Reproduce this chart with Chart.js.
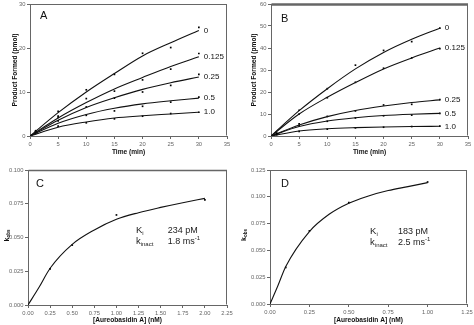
<!DOCTYPE html>
<html>
<head>
<meta charset="utf-8">
<script src="https://cdn.jsdelivr.net/npm/chart.js@4/dist/chart.umd.min.js"></script>
<style>
  body { margin: 0; background: #fff; width: 474px; height: 325px; position: relative; overflow: hidden; }
  canvas { position: absolute; }
</style>
</head>
<body>
<canvas id="chartA" width="237" height="160" style="left:0;top:0"></canvas>
<canvas id="chartB" width="237" height="160" style="left:237px;top:0"></canvas>
<canvas id="chartC" width="237" height="165" style="left:0;top:160px"></canvas>
<canvas id="chartD" width="237" height="165" style="left:237px;top:160px"></canvas>
<script>
const FONT = '"Liberation Sans", Arial, sans-serif'

// inhibitor doses (nM) labelling each time course
const doseLabels = ['0', '0.125', '0.25', '0.5', '1.0']

// time courses, product formed (pmol)
const pointTime = [1, 5, 10, 15, 20, 25, 30]
const fitTime = [0, 5, 10, 15, 20, 25, 30]

const pointsA = [
    [1.2, 5.6, 10.5, 14.0, 18.8, 20.1, 24.7],
    [1.0, 4.5, 8.5, 10.2, 12.75, 15.2, 18.75],
    [0.9, 4.2, 6.6, 8.6, 10.0, 11.5, 14.0],
    [0.8, 3.45, 4.7, 5.7, 6.75, 7.7, 8.85],
    [0.6, 2.25, 3.0, 3.9, 4.5, 5.1, 5.4]
]
const fitsA = [
    [0, 5.3, 10.0, 14.2, 18.2, 21.2, 24.0],
    [0, 4.1, 7.6, 10.7, 13.3, 15.8, 18.0],
    [0, 3.6, 6.5, 8.7, 10.6, 12.1, 13.4],
    [0, 2.9, 4.9, 6.3, 7.3, 8.0, 8.6],
    [0, 2.0, 3.2, 4.1, 4.6, 5.0, 5.4]
]

const pointsB = [
    [1.3, 11.7, 21.5, 32.2, 38.9, 42.9, 49.0],
    [1.2, 10.0, 17.4, 24.4, 30.8, 35.5, 39.7],
    [1.0, 5.5, 8.9, 11.4, 14.1, 14.4, 16.5],
    [0.9, 4.75, 6.7, 8.2, 9.2, 9.5, 10.25],
    [0.6, 2.1, 3.1, 3.7, 4.0, 4.3, 4.45]
]
const fitsB = [
    [0, 11.5, 21.5, 30.5, 38.0, 44.0, 49.0],
    [0, 10.0, 17.6, 24.3, 30.5, 35.5, 40.0],
    [0, 5.0, 8.8, 11.6, 13.6, 15.2, 16.4],
    [0, 4.3, 6.8, 8.3, 9.3, 9.9, 10.3],
    [0, 2.3, 3.3, 3.8, 4.1, 4.3, 4.4]
]

// kobs vs [Aureobasidin A] (nM)
const concC = [0.25, 0.5, 1.0, 2.0]
const kobsC = [0.0267, 0.0444, 0.0667, 0.0778]
const fitConcC = [0, 0.125, 0.25, 0.5, 0.75, 1.0, 1.25, 1.5, 1.75, 2.0]
const fitKobsC = [0, 0.0131, 0.0272, 0.0449, 0.0556, 0.0635, 0.0684, 0.0723, 0.0758, 0.079]

const concD = [0.1, 0.25, 0.5, 1.0]
const kobsD = [0.0341, 0.0682, 0.0946, 0.1138]
const fitConcD = [0, 0.05, 0.1, 0.25, 0.375, 0.5, 0.625, 0.75, 0.875, 1.0]
const fitKobsD = [0, 0.017, 0.035, 0.0676, 0.0837, 0.094, 0.1008, 0.1058, 0.1095, 0.1132]

const constantsC = ['234 pM', '1.8 ms']
const constantsD = ['183 pM', '2.5 ms']

const xy = (xs, ys) => xs.map((x, i) => ({x: x, y: ys[i]}))

const axis = o => ({
    type: 'linear', min: o.min, max: o.max,
    ticks: {
        stepSize: o.step, autoSkip: false, maxRotation: 0,
        font: {family: FONT, size: 5.8}, color: '#666', padding: 1.5,
        callback: v => v.toFixed(o.digits)
    },
    grid: {drawOnChartArea: false, drawTicks: true, tickLength: 3, color: '#666', lineWidth: 1},
    border: {display: true, color: '#666', width: 1},
    title: o.title
        ? {display: true, text: o.title, color: '#111', padding: o.titlePad,
           font: {family: FONT, size: 6.6, weight: 'bold'}}
        : {display: false},
    afterFit: s => {
        if (s.isHorizontal()) s.height = o.size
        else s.width = o.size
        s.paddingLeft = s.paddingRight = s.paddingTop = s.paddingBottom = 0
    }
})

function subText(ctx, parts, x, y) {
    // parts: [text, size, dy]
    parts.forEach(p => {
        ctx.font = p[1] + 'px ' + FONT
        ctx.fillText(p[0], x, y + p[2])
        x += ctx.measureText(p[0]).width
    })
}

const decor = {
    id: 'decor',
    afterDraw(chart, args, o) {
        const {ctx, chartArea: a, scales: {x, y}} = chart
        ctx.save()
        ctx.strokeStyle = '#666'
        ctx.lineWidth = 1
        const l = Math.round(a.left) + 0.5, t = Math.round(a.top) + 0.5
        const r = Math.round(a.right) - 0.5, b = Math.round(a.bottom) - 0.5
        ctx.beginPath()
        ctx.moveTo(r, t); ctx.lineTo(r, b)
        ctx.stroke()
        ctx.lineWidth = o.topWidth || 1
        ctx.beginPath()
        ctx.moveTo(l, t); ctx.lineTo(r + 0.5, t)
        ctx.stroke()

        ctx.fillStyle = '#111'
        ctx.textBaseline = 'middle'
        ctx.textAlign = 'left'
        ctx.font = '11px ' + FONT
        ctx.fillText(o.letter, a.left + o.letterPos[0], a.top + o.letterPos[1])

        // dose labels at the end of each fitted curve
        ctx.font = '8px ' + FONT
        chart.data.datasets.forEach(ds => {
            if (!ds.endLabel) return
            const last = ds.data[ds.data.length - 1]
            ctx.fillText(ds.endLabel, x.getPixelForValue(last.x) + 5, y.getPixelForValue(last.y))
        })

        if (o.constants) {
            const cx = x.getPixelForValue(o.constAt[0]), cy = y.getPixelForValue(o.constAt[1])
            const vx = x.getPixelForValue(o.constAt[2])
            ctx.fillStyle = '#222'
            subText(ctx, [['K', 9.5, 0], ['i', 6, 3]], cx, cy)
            subText(ctx, [[o.constants[0], 9, 0]], vx, cy)
            subText(ctx, [['k', 9.5, 0], ['inact', 6, 3]], cx, cy + 11)
            subText(ctx, [[o.constants[1], 9, 0], ['-1', 6, -3]], vx, cy + 11)
        }

        if (o.kobsTitle) {
            ctx.save()
            ctx.translate(7, (a.top + a.bottom) / 2 + 4)
            ctx.rotate(-Math.PI / 2)
            ctx.fillStyle = '#111'
            ctx.font = 'bold 7px ' + FONT
            ctx.fillText('k', 0, 0)
            const w = ctx.measureText('k').width
            ctx.font = 'bold 4.5px ' + FONT
            ctx.fillText('obs', w, 2)
            ctx.restore()
        }
        ctx.restore()
    }
}

function timeCourse(id, points, fits, o) {
    const datasets = []
    doseLabels.forEach((dose, i) => {
        datasets.push({
            type: 'line', data: xy(fitTime, fits[i]), endLabel: dose,
            borderColor: '#111', borderWidth: 1.1, pointRadius: 0,
            cubicInterpolationMode: 'monotone', fill: false
        })
        datasets.push({
            type: 'scatter', data: xy(pointTime, points[i]),
            pointStyle: 'rect', pointRadius: 1.2, backgroundColor: '#000', borderWidth: 0
        })
    })
    new Chart(document.getElementById(id), {
        data: {datasets: datasets},
        options: {
            responsive: false, animation: false, devicePixelRatio: 1,
            layout: {padding: o.padding},
            plugins: {legend: {display: false}, tooltip: {enabled: false}, decor: o.decor},
            scales: {
                x: axis({min: 0, max: 35, step: 5, digits: 0, size: o.xSize,
                         title: 'Time (min)', titlePad: {bottom: 3.5}}),
                y: axis({min: 0, max: o.yMax, step: 10, digits: 0, size: o.ySize,
                         title: 'Product Formed (pmol)', titlePad: {top: o.yTitlePad}})
            }
        },
        plugins: [decor]
    })
}

function kobsPlot(id, conc, kobs, fitConc, fitKobs, o) {
    new Chart(document.getElementById(id), {
        data: {
            datasets: [
                {type: 'line', data: xy(fitConc, fitKobs), borderColor: '#111', borderWidth: 1.1,
                 pointRadius: 0, cubicInterpolationMode: 'monotone', fill: false},
                {type: 'scatter', data: xy(conc, kobs), pointStyle: 'rect', pointRadius: 1.2,
                 backgroundColor: '#000', borderWidth: 0}
            ]
        },
        options: {
            responsive: false, animation: false, devicePixelRatio: 1,
            layout: {padding: o.padding},
            plugins: {legend: {display: false}, tooltip: {enabled: false}, decor: o.decor},
            scales: {
                x: axis({min: 0, max: o.xMax, step: 0.25, digits: 2, size: o.xSize,
                         title: '[Aureobasidin A] (nM)', titlePad: {bottom: 0.8}}),
                y: axis({min: 0, max: o.yMax, step: 0.025, digits: 3, size: o.ySize})
            }
        },
        plugins: [decor]
    })
}

timeCourse('chartA', pointsA, fitsA, {
    yMax: 30, ySize: 30, xSize: 24, yTitlePad: 10.8,
    padding: {left: 0, right: 10, top: 3, bottom: 0},
    decor: {letter: 'A', letterPos: [10, 12]}
})
timeCourse('chartB', pointsB, fitsB, {
    yMax: 60, ySize: 34, xSize: 24, yTitlePad: 12.8,
    padding: {left: 0, right: 6, top: 1, bottom: 0},
    decor: {letter: 'B', letterPos: [10, 14.5], topWidth: 2.5}
})
kobsPlot('chartC', concC, kobsC, fitConcC, fitKobsC, {
    xMax: 2.25, yMax: 0.1, ySize: 28, xSize: 20,
    padding: {left: 0, right: 10, top: 10, bottom: 0},
    decor: {letter: 'C', letterPos: [8, 13.5], topWidth: 1.5, constants: constantsC, constAt: [1.22, 0.0555, 1.58], kobsTitle: true}
})
kobsPlot('chartD', concD, kobsD, fitConcD, fitKobsD, {
    xMax: 1.25, yMax: 0.125, ySize: 33, xSize: 21,
    padding: {left: 0, right: 7, top: 10, bottom: 0},
    decor: {letter: 'D', letterPos: [11, 13.5], constants: constantsD, constAt: [0.635, 0.068, 0.812], kobsTitle: true}
})
</script>
</body>
</html>
